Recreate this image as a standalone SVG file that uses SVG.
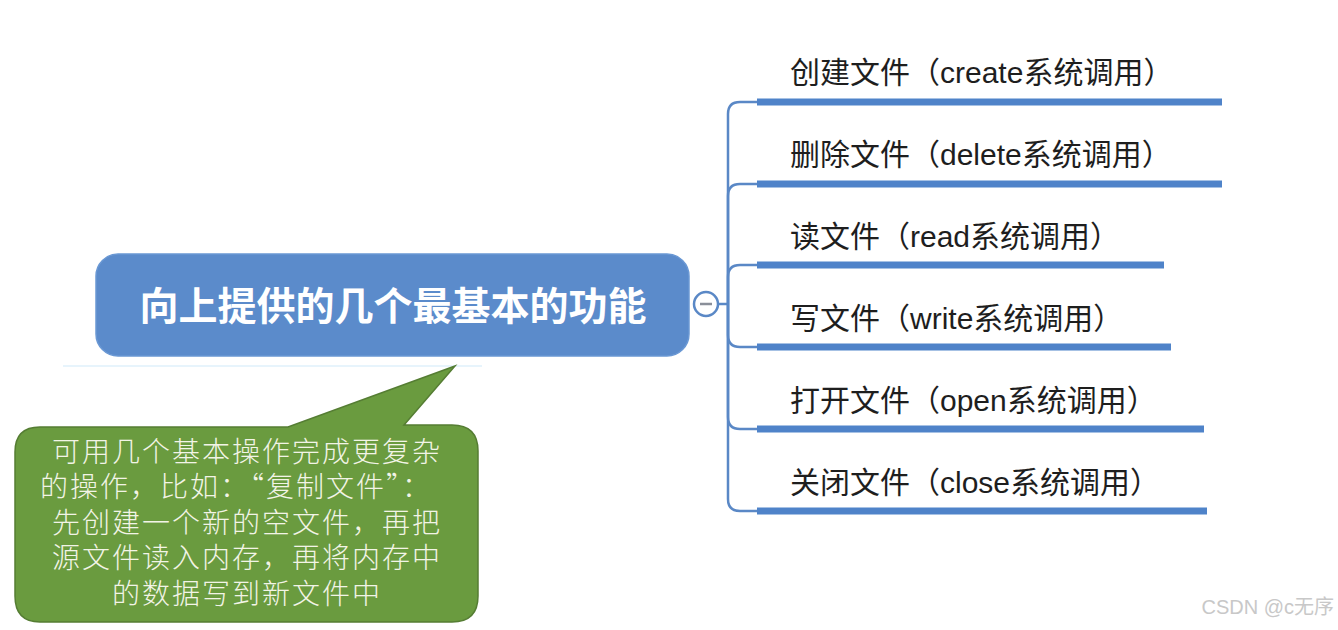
<svg xmlns="http://www.w3.org/2000/svg" width="1338" height="630" viewBox="0 0 1338 630">
<style>
.lbl{font-family:"Liberation Sans","Noto Sans CJK SC",sans-serif;font-size:30px;fill:#1e1e1e}
.bar{stroke:#4f83c9;stroke-width:7;fill:none}
.conn{stroke:#5a88c6;stroke-width:2.5;fill:none}
.note{font-family:"Noto Sans CJK SC","Liberation Sans",sans-serif;font-size:28px;letter-spacing:2px;font-weight:300;fill:#f2f4e6;text-anchor:middle}
</style>
<rect width="1338" height="630" fill="#ffffff"/>
<g id="connectors">
<path class="conn" d="M719,304 H728"/>
<path class="conn" d="M728,304 V114 Q728,102 740,102 H757"/>
<path class="conn" d="M728,304 V196 Q728,184 740,184 H757"/>
<path class="conn" d="M728,304 V277 Q728,265 740,265 H757"/>
<path class="conn" d="M728,304 V335 Q728,347 740,347 H757"/>
<path class="conn" d="M728,304 V417 Q728,429 740,429 H757"/>
<path class="conn" d="M728,304 V499 Q728,511 740,511 H757"/>
</g>
<g id="root">
<rect x="96" y="254" width="593" height="102" rx="22" fill="#5b8bcb" stroke="#6a98d4" stroke-width="1.5"/>
<text x="393" y="320" font-family="Noto Sans CJK SC,Liberation Sans,sans-serif" font-size="39" font-weight="bold" fill="#ffffff" text-anchor="middle">向上提供的几个最基本的功能</text>
</g>
<g id="collapse">
<circle cx="706" cy="304" r="12" fill="#ffffff" stroke="#5a88c6" stroke-width="2.5"/>
<line x1="700" y1="304" x2="712" y2="304" stroke="#8a8f99" stroke-width="2.5"/>
</g>
<g id="n1"><text class="lbl" x="790" y="83">创建文件（create系统调用）</text><line class="bar" x1="757" y1="102" x2="1222" y2="102"/></g>
<g id="n2"><text class="lbl" x="790" y="165">删除文件（delete系统调用）</text><line class="bar" x1="757" y1="184" x2="1222" y2="184"/></g>
<g id="n3"><text class="lbl" x="790" y="247">读文件（read系统调用）</text><line class="bar" x1="757" y1="265" x2="1164" y2="265"/></g>
<g id="n4"><text class="lbl" x="790" y="329">写文件（write系统调用）</text><line class="bar" x1="757" y1="347" x2="1171" y2="347"/></g>
<g id="n5"><text class="lbl" x="790" y="411">打开文件（open系统调用）</text><line class="bar" x1="757" y1="429" x2="1204" y2="429"/></g>
<g id="n6"><text class="lbl" x="790" y="493">关闭文件（close系统调用）</text><line class="bar" x1="757" y1="511" x2="1207" y2="511"/></g>
<line x1="63" y1="366" x2="482" y2="366" stroke="#dff1fb" stroke-width="1.5"/>
<g id="callout">
<path d="M40,427 H288 L455,366 L404,425 H452 Q478,425 478,451 V596 Q478,622 452,622 H40 Q15,622 15,596 V452 Q15,427 40,427 Z" fill="#6a9b3f" stroke="#557d33" stroke-width="1.5"/>
<text class="note" x="247" y="462">可用几个基本操作完成更复杂</text>
<text class="note" x="236" y="497">的操作，比如：“复制文件”：</text>
<text class="note" x="247" y="533">先创建一个新的空文件，再把</text>
<text class="note" x="247" y="568">源文件读入内存，再将内存中</text>
<text class="note" x="247" y="604">的数据写到新文件中</text>
</g>
<text x="1334" y="614" font-family="Liberation Sans,Noto Sans CJK SC,sans-serif" font-size="20" fill="#c8c8c8" text-anchor="end">CSDN @c无序</text>
</svg>
